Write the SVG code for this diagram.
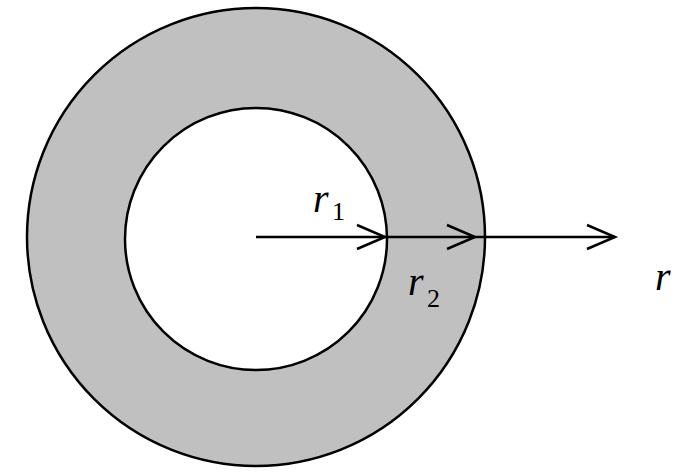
<svg xmlns="http://www.w3.org/2000/svg" width="700" height="474" viewBox="0 0 700 474">
<style>
.c{stroke:#000;stroke-width:2.5}
.a{fill:none;stroke:#000;stroke-width:2.5}
.t{font-family:"Liberation Serif",serif;font-style:italic;font-size:40px}
.s{font-family:"Liberation Serif",serif;font-size:26px}
</style>
<rect width="700" height="474" fill="#fff"/>
<g id="outer"><circle class="c" cx="256" cy="237" r="229" fill="#c0c0c0"/></g>
<g id="inner"><circle class="c" cx="256" cy="239" r="131" fill="#fff"/></g>
<g id="connectors">
<line class="a" x1="256" y1="237" x2="615" y2="237"/>
<polyline class="a" points="357,225 385,237 357,249"/>
<polyline class="a" points="447,225 475,237 447,249"/>
<polyline class="a" points="587,225 615,237 587,249"/>
</g>
<g id="labels">
<text class="t" x="313" y="212">r</text><text class="s" x="332" y="220">1</text>
<text class="t" x="408" y="295">r</text><text class="s" x="427" y="307">2</text>
<text class="t" x="655" y="290">r</text>
</g>
</svg>
